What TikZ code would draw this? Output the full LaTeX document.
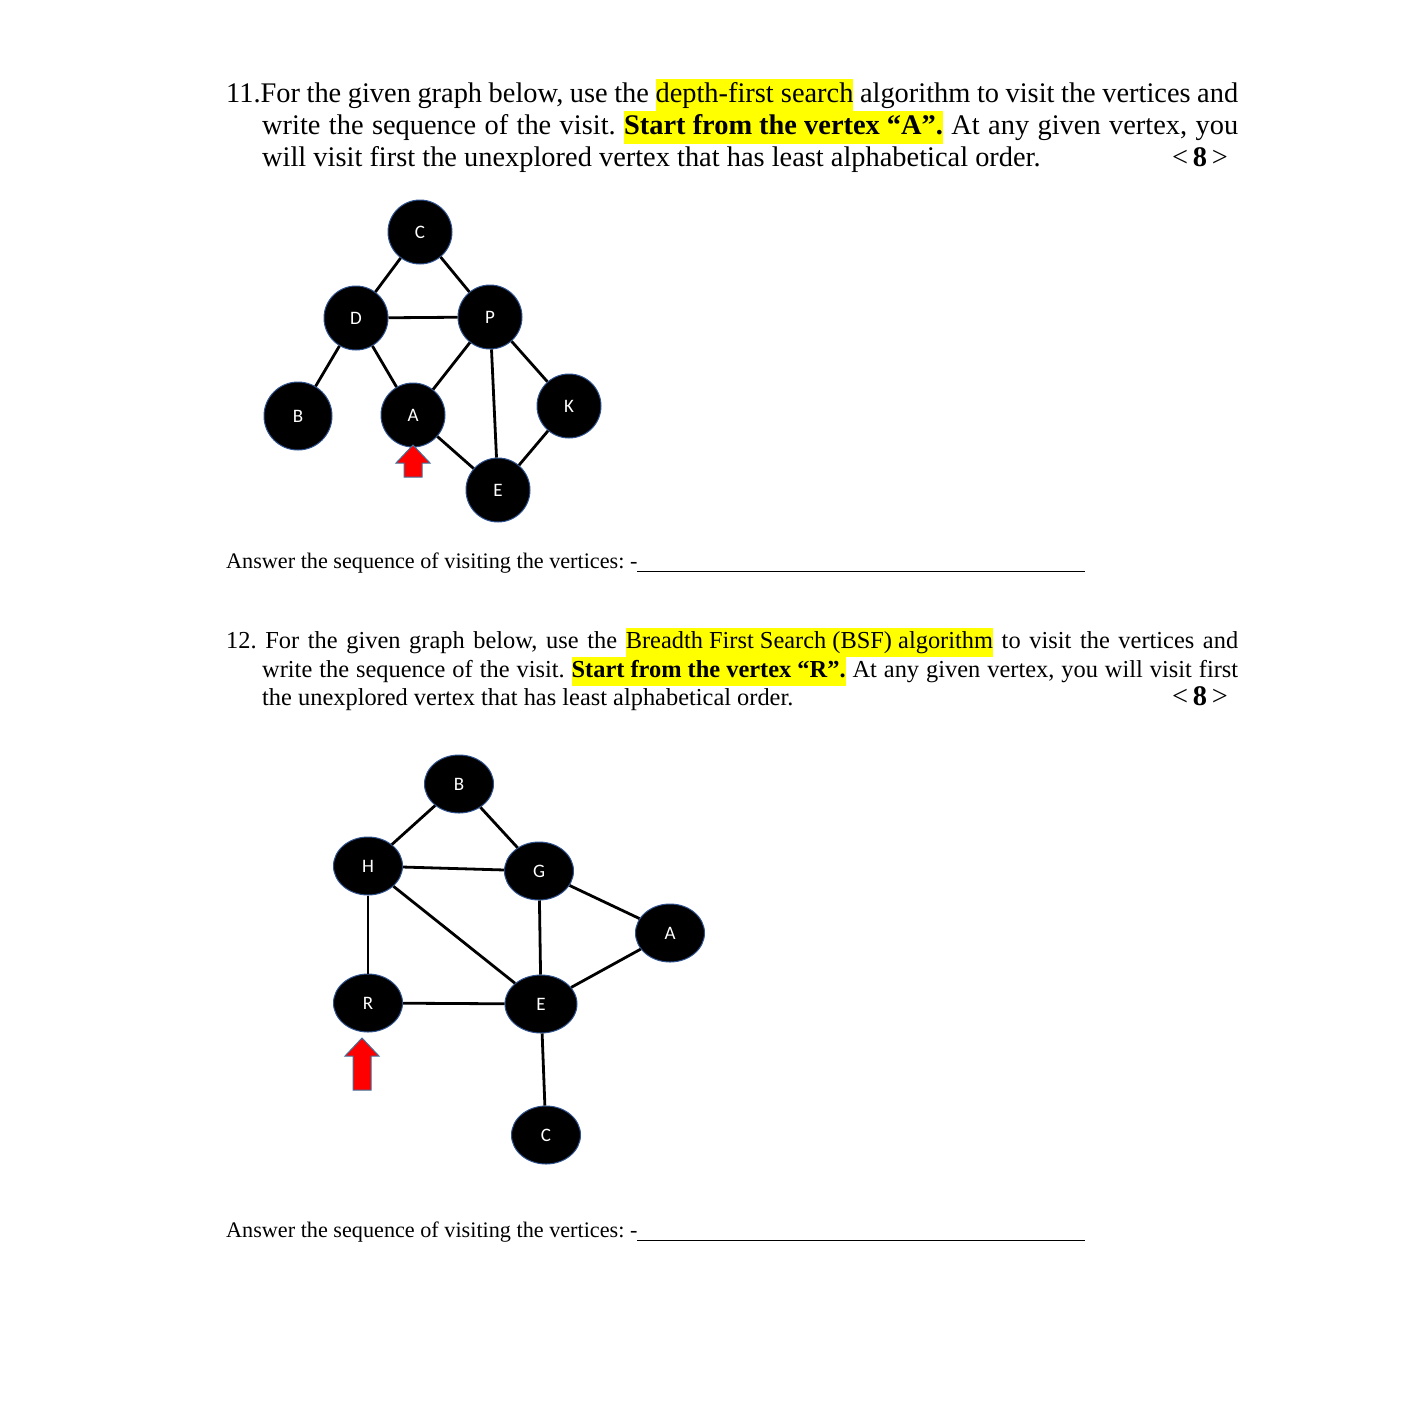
\documentclass[tikz,border=0pt]{standalone}
\usepackage{fontspec}
\setmainfont{Liberation Serif}
\newfontfamily\vxfont{Carlito}
\usetikzlibrary{positioning,shapes.geometric}
\definecolor{hiyellow}{RGB}{255,255,0}
\definecolor{rimblue}{RGB}{47,82,143}
\definecolor{arrowrim}{RGB}{65,113,156}
\frenchspacing
\newcommand{\hlt}[1]{{\setlength{\fboxsep}{0pt}\colorbox{hiyellow}{\strut#1}}}
\newcommand{\answerline}{\makebox[859pt][l]{Answer the sequence of visiting the vertices: -\leaders\hrule height -3pt depth 4.2pt\hfill}}

\begin{document}
\begin{tikzpicture}[x=1pt, y=-1pt,
  qtext/.style={anchor=base west, inner sep=0pt},
  big/.style={font=\fontsize{28.4}{33}\selectfont},
  mid/.style={font=\fontsize{24.4}{28.5}\selectfont},
  small/.style={font=\fontsize{22.2}{26}\selectfont},
  vtx/.style={circle, draw=rimblue, line width=1pt, fill=black, text=white,
              font=\vxfont\fontsize{19}{20}\selectfont, minimum size=64pt, inner sep=0pt},
  vtxo/.style={ellipse, draw=rimblue, line width=1pt, fill=black, text=white,
              font=\vxfont\fontsize{19}{20}\selectfont, minimum width=69pt, minimum height=58pt, inner sep=0pt},
  link/.style={line width=2.8pt, black},
  pics/startarr/.style={code={
    \filldraw[fill=red, draw=arrowrim, line width=1pt]
      (0,0) -- (17,18) -- (9,18) -- (9,#1) -- (-9,#1) -- (-9,18) -- (-17,18) -- cycle;}}]
\useasboundingbox (0,0) rectangle (1422,1422);

\node[qtext,big] (q11a) at (226,102) {\makebox[1012pt][s]{11.For the given graph below, use the \hlt{depth-first search} algorithm to visit the vertices and}};
\node[qtext,big] (q11b) at (262,134) {\makebox[976pt][s]{write the sequence of the visit. \hlt{\textbf{Start from the vertex “A”.}} At any given vertex, you}};
\node[qtext,big] (q11c) at (262,166) {will visit first the unexplored vertex that has least alphabetical order.};
\node[big, anchor=base east, inner sep=0pt] (pts11) at (1228,166) {<\,\textbf{8}\,>};

\node[vtx] (c1) at (420,232) {C};
\node[vtx] (d1) at (356,318) {D};
\node[vtx] (p1) at (490,317) {P};
\node[vtx, minimum size=68pt] (b1) at (298,416) {B};
\node[vtx] (a1) at (413,415) {A};
\node[vtx] (k1) at (569,406) {K};
\node[vtx] (e1) at (498,490) {E};
\draw[link] (c1)--(d1); \draw[link] (c1)--(p1); \draw[link] (d1)--(p1);
\draw[link] (d1)--(b1); \draw[link] (d1)--(a1); \draw[link] (p1)--(a1);
\draw[link] (p1)--(e1); \draw[link] (p1)--(k1); \draw[link] (a1)--(e1);
\draw[link] (k1)--(e1);
\pic at (413,445) {startarr=32};

\node[qtext,small] (ans11) at (226,568) {\answerline};

\node[qtext,mid] (q12a) at (226,648) {\makebox[1012pt][s]{12. For the given graph below, use the \hlt{Breadth First Search (BSF) algorithm} to visit the vertices and}};
\node[qtext,mid] (q12b) at (262,677) {\makebox[976pt][s]{write the sequence of the visit. \hlt{\textbf{Start from the vertex “R”.}} At any given vertex, you will visit first}};
\node[qtext,mid] (q12c) at (262,705) {the unexplored vertex that has least alphabetical order.};
\node[big, anchor=base east, inner sep=0pt] (pts12) at (1228,705) {<\,\textbf{8}\,>};

\node[vtxo] (b2) at (459,784) {B};
\node[vtxo] (h2) at (368,866) {H};
\node[vtxo] (g2) at (539,871) {G};
\node[vtxo] (a2) at (670,933) {A};
\node[vtxo] (r2) at (368,1003) {R};
\node[vtxo, minimum width=72pt] (e2) at (541,1004) {E};
\node[vtxo] (c2) at (546,1135) {C};
\draw[link] (b2)--(h2); \draw[link] (b2)--(g2); \draw[link] (h2)--(g2);
\draw[link] (h2)--(r2); \draw[link] (h2)--(e2); \draw[link] (g2)--(e2);
\draw[link] (g2)--(a2); \draw[link] (r2)--(e2); \draw[link] (e2)--(a2);
\draw[link] (e2)--(c2);
\pic at (362,1038) {startarr=52};

\node[qtext,small] (ans12) at (226,1237) {\answerline};
\end{tikzpicture}
\end{document}
